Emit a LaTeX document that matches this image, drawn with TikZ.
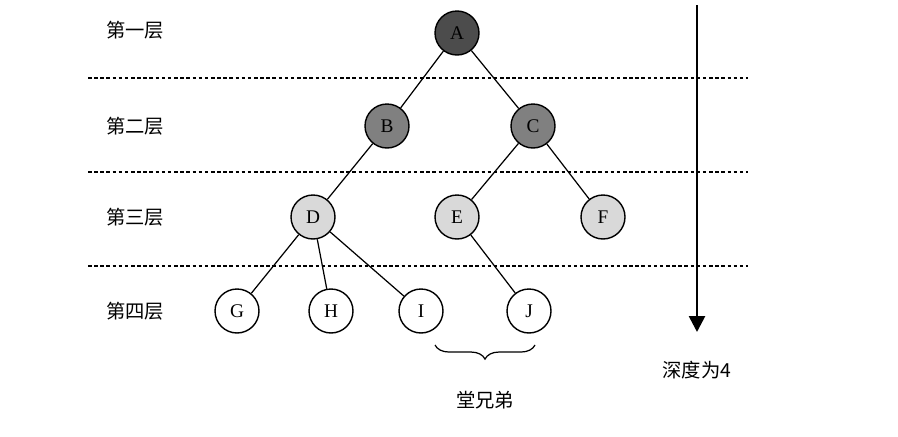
\documentclass[tikz,border=0pt]{standalone}
\usepackage{fontspec}
\setmainfont{Liberation Serif}
\newfontfamily\cjk{Noto Sans CJK SC}
\usetikzlibrary{decorations.pathreplacing,arrows.meta}
\begin{document}
\begin{tikzpicture}[x=0.02cm,y=-0.02cm,
  nd/.style={circle,draw,line width=0.8pt,minimum size=0.88cm,inner sep=0pt,font=\fontsize{11pt}{11pt}\selectfont},
  lvl/.style={font=\cjk\fontsize{11pt}{11pt}\selectfont},
  sep/.style={dashed,line width=0.9pt,dash pattern=on 2pt off 1.5pt},
  edge/.style={line width=0.7pt}]
\useasboundingbox (0,0) rectangle (898,436);
\fill[white] (0,0) rectangle (898,436);
\foreach \y in {78,172,266} \draw[sep] (88,\y) -- (748,\y);
\node[lvl] (l1) at (135,30) {第一层};
\node[lvl] (l2) at (135,126) {第二层};
\node[lvl] (l3) at (135,217) {第三层};
\node[lvl] (l4) at (135,311) {第四层};
\node[nd,fill=black!70] (A) at (457,33) {A};
\node[nd,fill=black!50] (B) at (387,126) {B};
\node[nd,fill=black!50] (C) at (533,126) {C};
\node[nd,fill=black!15] (D) at (313,217) {D};
\node[nd,fill=black!15] (E) at (457,217) {E};
\node[nd,fill=black!15] (F) at (603,217) {F};
\node[nd,fill=white] (G) at (237,311) {G};
\node[nd,fill=white] (H) at (331,311) {H};
\node[nd,fill=white] (I) at (421,311) {I};
\node[nd,fill=white] (J) at (529,311) {J};
\draw[edge] (A)--(B); \draw[edge] (A)--(C);
\draw[edge] (B)--(D); \draw[edge] (C)--(E); \draw[edge] (C)--(F);
\draw[edge] (D)--(G); \draw[edge] (D)--(H); \draw[edge] (D)--(I); \draw[edge] (E)--(J);
\coordinate (t) at (697,5);
\coordinate (b) at (697,332);
\draw[line width=1.5pt,-{Triangle[length=9pt,width=9pt]}] (t)--(b);
\node[lvl] (dep) at (697,370) {深度为4};
\coordinate (br1) at (435,345);
\coordinate (br2) at (535,345);
\draw[line width=0.7pt,decorate,decoration={brace,mirror,amplitude=8pt}] (br1)--(br2);
\node[lvl] (cous) at (485,400) {堂兄弟};
\end{tikzpicture}
\end{document}
